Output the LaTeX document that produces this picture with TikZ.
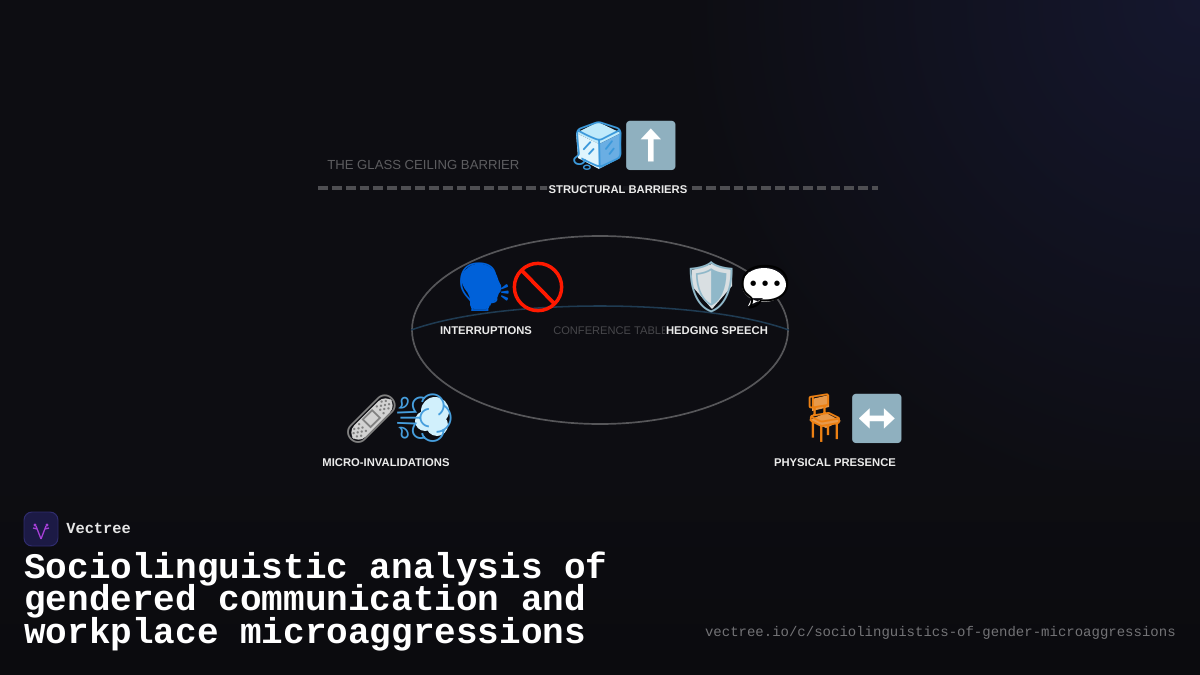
\documentclass[tikz,border=0pt]{standalone}
\usepackage{fontspec}
\setmainfont{Liberation Sans}
\newfontfamily\titlefont{Liberation Mono}
\newfontfamily\emojifont{Noto Emoji}
\newfontfamily\emojibold[FakeBold=3]{Noto Emoji}
\usetikzlibrary{positioning,shapes.geometric,calc}
\definecolor{bgdark}{HTML}{0D0D12}
\definecolor{bgblue}{HTML}{15172E}
\definecolor{bgfoot}{HTML}{0B0B0E}
\definecolor{arcblue}{HTML}{1F3B52}
\definecolor{keycap}{HTML}{8FB0BF}
\definecolor{logofill}{HTML}{1C1A45}
\definecolor{logoedge}{HTML}{2F2C6E}
\definecolor{logoink}{HTML}{A63FD8}

\begin{document}
\begin{tikzpicture}[
  x=0.025cm, y=-0.025cm,
  label/.style={font=\bfseries\fontsize{8}{9}\selectfont, text=white!92!black, fill=bgdark, fill opacity=0.85, text opacity=1, inner sep=1pt},
  emoji/.style={font=\emojifont\fontsize{#1}{34}\selectfont, inner sep=0pt},
  faint/.style={font=\fontsize{#1}{10}\selectfont, inner sep=0pt, anchor=west}
]

% Background
\useasboundingbox (0,0) rectangle (1200,675);
\fill[bgdark] (0,0) rectangle (1200,675);
\begin{scope}
  \clip (0,0) rectangle (1200,675);
  \shade[inner color=bgblue, outer color=bgdark] (1200,0) circle (520);
\end{scope}
\shade[top color=bgdark, bottom color=bgfoot] (0,470) rectangle (1200,675);

% Glass ceiling
\node[faint=9.35, text=white!33!bgdark] (ceiling_label) at (327,165) {THE GLASS CEILING BARRIER};
\coordinate (ceil_a) at (318,188);
\coordinate (ceil_b) at (878,188);
\draw[white!27!bgdark, line width=2.8pt, dash pattern=on 7pt off 2.85pt] (ceil_a) -- (ceil_b);

% Conference table
\node[draw=white!30!bgdark, line width=1.2pt, ellipse, minimum width=376*0.025cm, minimum height=188*0.025cm, inner sep=0pt] (conf_table) at (600,330) {};
\draw[arcblue, line width=1.1pt] (conf_table.west) .. controls (500,298) and (700,298) .. (conf_table.east);
\node[faint=7.9, text=white!24!bgdark] (table_label) at (553,330.5) {CONFERENCE TABLE};

% Structural barriers
\fill[cyan!25!white] (598,122) -- (621,133) -- (599,144) -- (576,133) -- cycle;
\fill[cyan!12!white] (576,133) -- (599,144) -- (599,169) -- (578,158) -- cycle;
\fill[cyan!70!blue!60!white] (621,133) -- (599,144) -- (599,169) -- (620,158) -- cycle;
\node[emoji=34, text=cyan!70!blue!80!white] (ice) at (598,146) {🧊};
\fill[white] (633,127) rectangle (670,165);
\node[emoji=34.5, text=keycap] (up) at (651.5,146) {⬆};
\node[label] (barriers) at (618,190) {STRUCTURAL BARRIERS};

% Interruptions
\fill[blue!55!cyan!85!black, rounded corners=3pt] (470,309) -- (470,296) -- (462,285) -- (461,274) -- (472,264) -- (486,264) -- (496,272) -- (498,280) -- (503,289) -- (498,293) -- (497,301) -- (490,302) -- (490,309) -- cycle;
\node[emoji=34, text=blue!55!cyan!85!black] (speaker) at (485,287) {🗣};
\node[font=\emojibold\fontsize{34.5}{38}\selectfont, inner sep=0pt, text=red!80!orange] (forbid) at (538,287) {🚫};
\node[label] (interrupt) at (486,331) {INTERRUPTIONS};

% Hedging speech
\fill[cyan!15!gray!30!white] (692,270) -- (712,264) -- (732,270) -- (732,286) -- (712,309) -- (692,286) -- cycle;
\node[emoji=36, text=cyan!40!gray!75!white] (shield) at (712,287) {🛡};
\fill[white] (764,285) ellipse (22 and 17) (752,298) -- (748,306) -- (764,298) -- cycle;
\node[emoji=38, text=black] (bubble) at (765,287) {💬};
\node[label] (hedging) at (717,331) {HEDGING SPEECH};

% Micro-invalidations
\fill[gray!35!white, rounded corners=7pt, rotate around={45:(372,419)}] (345,411) rectangle (399,427);
\node[emoji=34, text=gray] (bandage) at (372,419) {🩹};
\fill[cyan!18!white] (435,411) circle (14) (437,425) circle (11) (425,421) circle (10);
\node[emoji=34, text=cyan!70!blue!75!white] (puff) at (425,418) {💨};
\node[label] (micro) at (386,463) {MICRO-INVALIDATIONS};

% Physical presence
\fill[orange!55!brown!80!white] (812,399) -- (829,395) -- (829,407) -- (812,411) -- cycle (809,420) -- (826,413) -- (841,421) -- (826,428) -- cycle;
\node[emoji=34, text=orange!70!brown] (chair) at (825,418) {🪑};
\fill[white] (859,400) rectangle (896,438);
\node[emoji=34.5, text=keycap] (sides) at (877.5,419) {↔};
\node[label] (physical) at (835,463) {PHYSICAL PRESENCE};

% Brand and title
\node[draw=logoedge, fill=logofill, rounded corners=5.7pt, line width=0.7pt, minimum size=34*0.025cm, inner sep=0pt] (logo) at (41,529) {};
\draw[logoink, line width=0.9pt] (41,539) -- (36,526) (41,539) -- (46,526) (37,529) -- (33,528) (45,529) -- (49,528);
\fill[logoink] (35,525) circle (1.7) (47,525) circle (1.7);
\node[font=\titlefont\bfseries\fontsize{10.95}{13}\selectfont, text=white!90!black, inner sep=0pt, anchor=west] (brand) at (66,528.5) {Vectree};
\node[font=\titlefont\bfseries\fontsize{25.6}{23.05}\selectfont, text=white, align=left, inner sep=0pt, anchor=north west] (title) at (24,552) {Sociolinguistic analysis of\\[-2.6pt]gendered communication and\\[-1.2pt]workplace microaggressions};
\node[font=\titlefont\fontsize{9.96}{12}\selectfont, text=white!42!bgdark, inner sep=0pt, anchor=east] (url) at (1176,633) {vectree.io/c/sociolinguistics-of-gender-microaggressions};

\end{tikzpicture}
\end{document}
